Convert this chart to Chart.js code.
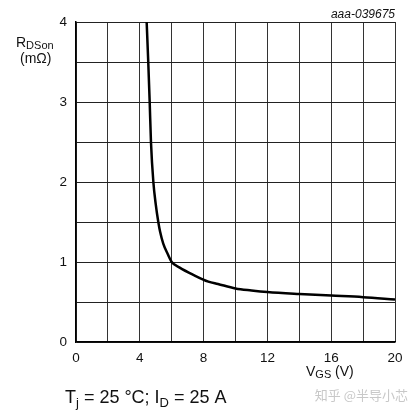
<!DOCTYPE html>
<html>
<head>
<meta charset="utf-8">
<script src="https://cdn.jsdelivr.net/npm/chart.js@4"></script>
<style>
  body{ margin:0; background:#fff; }
  #wrap{ width:418px; height:414px; position:relative; }
</style>
</head>
<body>
<div id="wrap"><canvas id="chart" width="418" height="414"></canvas></div>
<script>
// DATA
let vgs   = [4.43, 4.53, 4.62, 4.70, 4.85, 5.00, 5.16, 5.27, 5.47, 5.75, 6.00, 6.50, 7.35, 8.30, 8.90, 10.0, 11.0, 12.0, 14.0, 16.0, 18.0, 20.0];
let rdson = [4.00, 3.50, 3.00, 2.50, 2.00, 1.72, 1.50, 1.38, 1.23, 1.10, 1.00, 0.93, 0.84, 0.755, 0.725, 0.67, 0.645, 0.625, 0.60, 0.58, 0.56, 0.53];
let xTicks = [0, 4, 8, 12, 16, 20];
let yTicks = [0, 1, 2, 3, 4];

let font = "'Liberation Sans', Arial, sans-serif";

// draws text pieces one after another, sub = smaller and lower
function drawParts(ctx, parts, x, y){
  parts.forEach(p=>{
    ctx.font = p.size + "px " + font;
    ctx.fillText(p.t, x, y + (p.dy || 0));
    x += ctx.measureText(p.t).width;
  });
}

// TITLES + NOTES
let labels = {
  id: "labels",
  afterDraw(chart){
    let ctx = chart.ctx;
    ctx.save();
    ctx.fillStyle = "#111";
    ctx.textBaseline = "alphabetic";
    ctx.textAlign = "left";

    drawParts(ctx, [{t:"R", size:14}, {t:"DSon", size:11, dy:2}], 16, 47);
    ctx.font = "14px " + font;
    ctx.fillText("(mΩ)", 20, 63);

    drawParts(ctx, [{t:"V", size:14}, {t:"GS", size:11, dy:2}, {t:" (V)", size:14}], 306, 376);

    drawParts(ctx, [
      {t:"T", size:18}, {t:"j", size:13, dy:4},
      {t:" = 25 °C; I", size:18}, {t:"D", size:13, dy:4},
      {t:" = 25 A", size:18}
    ], 65, 403);

    ctx.textAlign = "right";
    ctx.font = "italic 12px " + font;
    ctx.fillText("aaa-039675", 395, 18);

    ctx.fillStyle = "#c8c8c8";
    ctx.font = "13px 'Noto Sans CJK SC', sans-serif";
    ctx.fillText("知乎 @半导小芯", 408, 400);
    ctx.restore();
  }
};

new Chart(document.getElementById("chart"), {
  type: "line",
  data: {
    datasets: [{
      data: vgs.map((v,i)=>({x:v, y:rdson[i]})),
      borderColor: "#000",
      borderWidth: 2.5,
      pointRadius: 0,
      cubicInterpolationMode: "monotone",
      fill: false
    }]
  },
  options: {
    responsive: false,
    animation: false,
    devicePixelRatio: 1,
    layout: { padding: { left: 0, top: 22, right: 23, bottom: 0 } },
    plugins: { legend: {display:false}, tooltip: {enabled:false} },
    scales: {
      x: {
        type: "linear", min: 0, max: 20,
        ticks: {
          stepSize: 2, padding: 8, color: "#111",
          font: { family: font, size: 13.5 },
          maxRotation: 0, autoSkip: false,
          callback: v => xTicks.includes(v) ? String(v) : ""
        },
        grid: { color: "#333", lineWidth: 1, drawTicks: false },
        border: { color: "#000", width: 1.5 },
        afterFit: s => { s.height = 72; }
      },
      y: {
        type: "linear", min: 0, max: 4,
        ticks: {
          stepSize: 0.5, padding: 9, color: "#111",
          font: { family: font, size: 13.5 },
          autoSkip: false,
          callback: v => yTicks.includes(v) ? String(v) : ""
        },
        grid: { color: "#222", lineWidth: 1, drawTicks: false },
        border: { color: "#000", width: 1.5 },
        afterFit: s => { s.width = 76; }
      }
    }
  },
  plugins: [labels]
});
</script>
</body>
</html>
